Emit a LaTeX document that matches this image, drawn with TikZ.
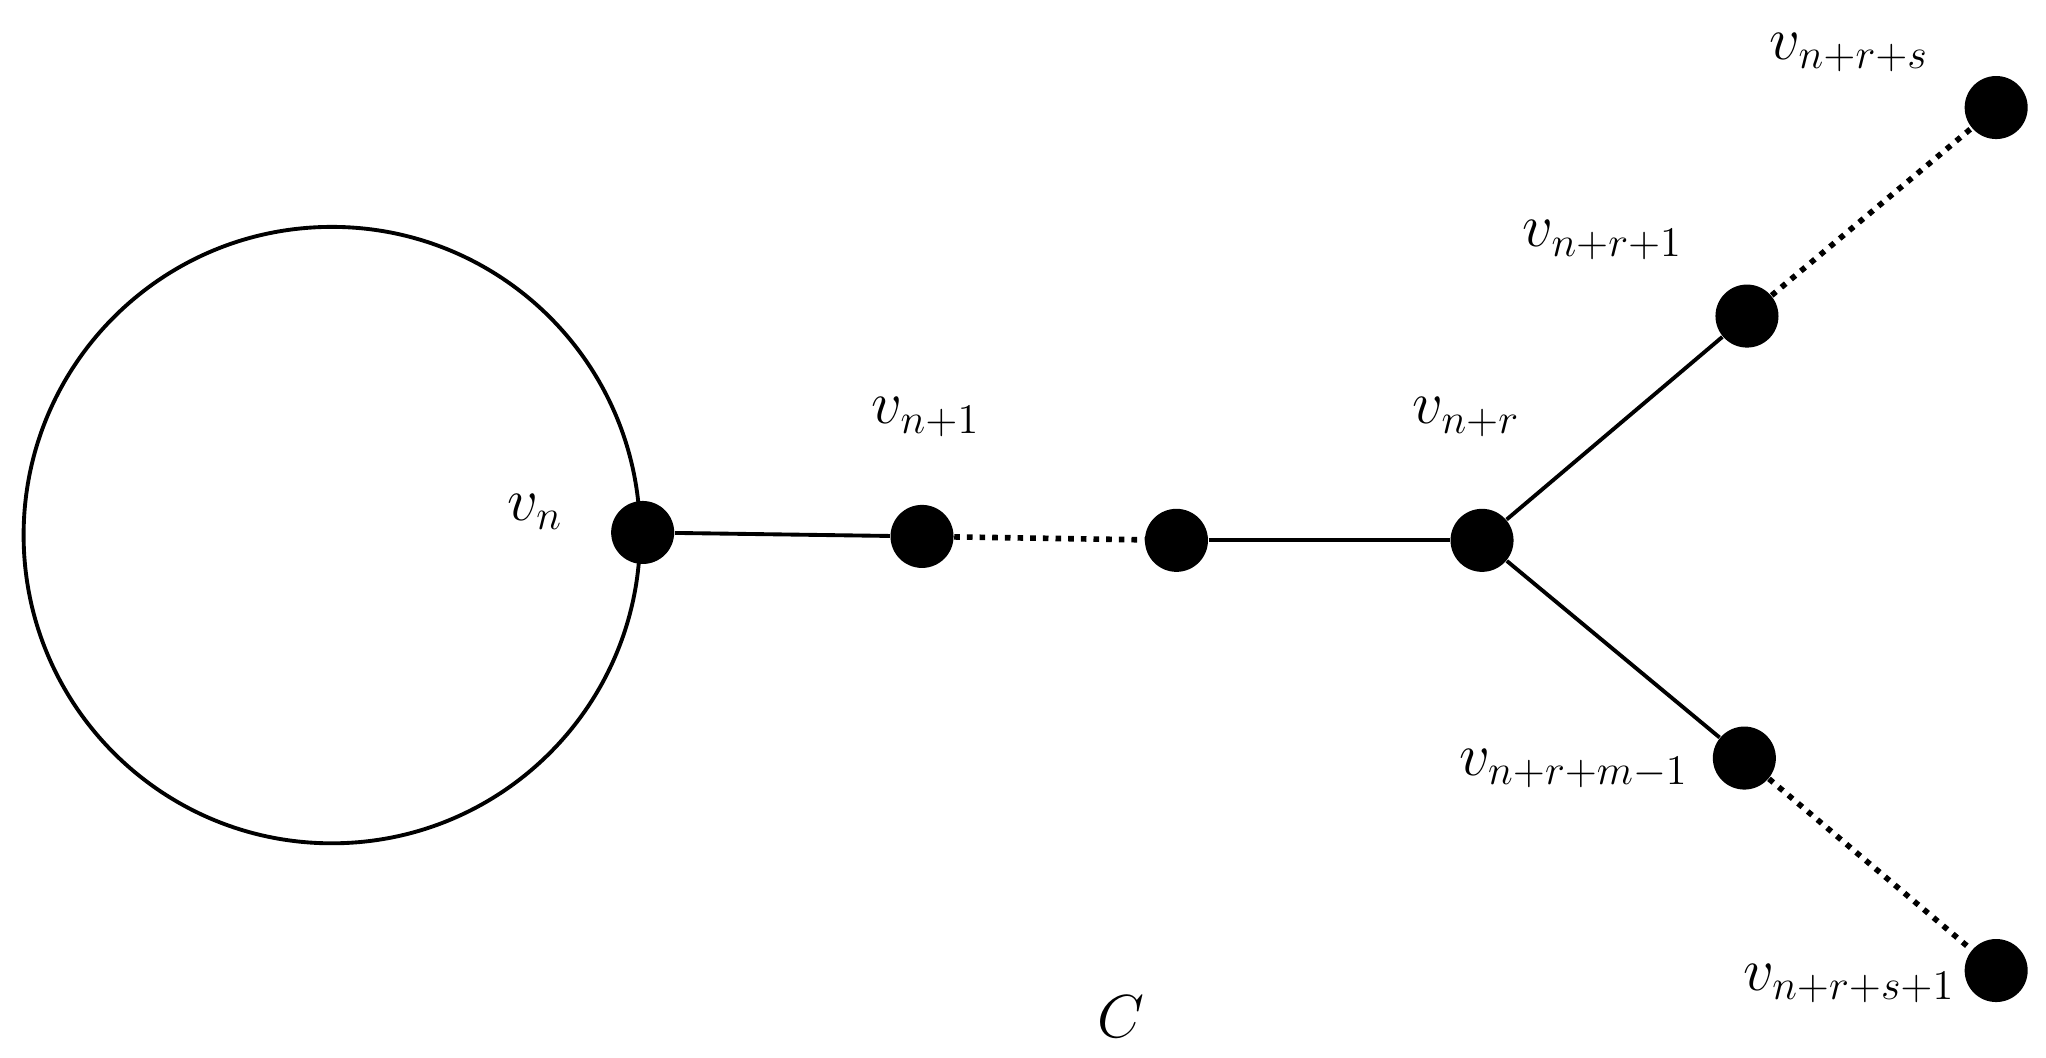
\documentclass[tikz,border=0pt]{standalone}
\begin{document}
\begin{tikzpicture}[x=0.01311cm,y=-0.01311cm,
  vert/.style={circle,fill=black,inner sep=0pt,minimum size=0.63cm},
  lab/.style={font=\fontsize{17}{20}\selectfont},
  edge/.style={line width=1.1pt},
  dots/.style={line width=1.6pt,dotted}]
\useasboundingbox (0,0) rectangle (1560,806);
\draw[edge] (253,408) circle (235);
\node[vert] (a) at (490,406) {};
\node[vert] (b) at (703,409) {};
\node[vert] (c) at (897,412) {};
\node[vert] (d) at (1130,412) {};
\node[vert] (e) at (1332,241) {};
\node[vert] (f) at (1522,82) {};
\node[vert] (g) at (1330,578) {};
\node[vert] (h) at (1522,740) {};
\draw[edge] (a) -- (b);
\draw[dots] (b) -- (c);
\draw[edge] (c) -- (d);
\draw[edge] (d) -- (e);
\draw[edge] (d) -- (g);
\draw[dots] (e) -- (f);
\draw[dots] (g) -- (h);
\node[lab] (la) at (408,390) {$v_n$};
\node[lab] (lb) at (706,318) {$v_{n+1}$};
\node[lab] (ld) at (1118,318) {$v_{n+r}$};
\node[lab] (le) at (1222,183) {$v_{n+r+1}$};
\node[lab] (lf) at (1410,40) {$v_{n+r+s}$};
\node[lab] (lg) at (1200,586) {$v_{n+r+m-1}$};
\node[lab] (lh) at (1410,750) {$v_{n+r+s+1}$};
\node[lab] (lc) at (855,775) {$C$};
\end{tikzpicture}
\end{document}
